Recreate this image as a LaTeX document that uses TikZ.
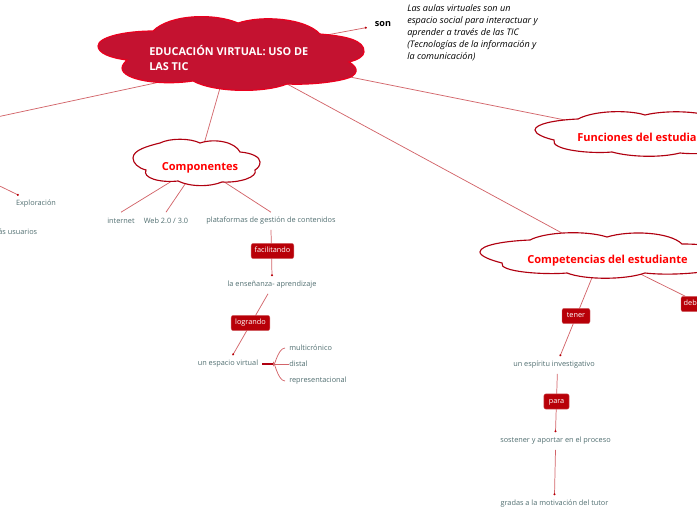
\documentclass[tikz,border=0pt]{standalone}
\usepackage{fontspec}
\setmainfont{Open Sans}
\usetikzlibrary{arrows.meta,backgrounds}
\definecolor{linkc}{RGB}{210,100,105}
\definecolor{boxc}{RGB}{184,0,8}
\definecolor{cloudline}{RGB}{176,0,16}
\definecolor{mainfill}{RGB}{196,18,48}
\definecolor{mainline}{RGB}{235,0,30}
\definecolor{leafc}{RGB}{80,110,112}
\tikzset{
  link/.style={draw=linkc,line width=0.55pt},
  dotlink/.style={link,-{Circle[length=1.5pt,width=1.5pt,fill=boxc,color=boxc]}},
  leaf/.style={text=leafc,font=\fontsize{5.5}{7}\selectfont,inner sep=0pt,minimum height=12.75pt,anchor=center},
  tagbox/.style={fill=boxc,draw=linkc,line width=0.3pt,rounded corners=1.6pt,text=white,font=\fontsize{5.5}{7}\selectfont,inner sep=0pt,minimum height=11.5pt,text height=4pt,text depth=1.2pt},
  outlinecloud/.style={fill=white,draw=cloudline,line width=0.85pt},
  mainshape/.style={fill=mainfill,draw=mainline,line width=0.85pt},
  cloudlabel/.style={text=red,font=\fontsize{8.28}{11}\selectfont\bfseries,inner sep=0pt},
  hub/.style={inner sep=0pt,minimum size=0pt,outer sep=0pt}
}
\begin{document}
\begin{tikzpicture}[x=0.75pt,y=-0.75pt]
\useasboundingbox (0,0) rectangle (697,520);
% clouds
\draw[mainshape] (153,31) .. controls (170,14) and (215,13) .. (238,23)
  .. controls (262,15) and (305,18) .. (320,34)
  .. controls (345,36) and (365,40) .. (364,52)
  .. controls (364,56) and (358,60) .. (349,62)
  .. controls (360,68) and (358,76) .. (345,79)
  .. controls (330,83) and (305,85) .. (287,84)
  .. controls (265,93) and (215,93) .. (193,81)
  .. controls (160,86) and (122,80) .. (122,68)
  .. controls (122,65) and (125,62) .. (127,60)
  .. controls (110,58) and (98,53) .. (98,46)
  .. controls (98,37) and (125,31) .. (153,31) -- cycle;
\draw[outlinecloud] (160,143) .. controls (170,138) and (190,138) .. (200,143)
  .. controls (215,138) and (235,142) .. (240,152)
  .. controls (252,153) and (260,157) .. (260,162)
  .. controls (260,166) and (258,168) .. (255,170)
  .. controls (258,177) and (240,183) .. (222,182)
  .. controls (210,187) and (190,187) .. (178,181)
  .. controls (160,183) and (142,178) .. (146,170)
  .. controls (138,168) and (133,163) .. (133,158)
  .. controls (133,150) and (148,146) .. (160,143) -- cycle;
\draw[outlinecloud] (578,119) .. controls (595,110) and (630,110) .. (645,115)
  .. controls (665,110) and (705,110) .. (722,121)
  .. controls (750,122) and (760,128) .. (760,135)
  .. controls (760,148) and (710,156) .. (680,153)
  .. controls (660,158) and (630,157) .. (612,152)
  .. controls (590,154) and (550,150) .. (554,140)
  .. controls (545,138) and (535,134) .. (535,130)
  .. controls (535,124) and (555,120) .. (578,119) -- cycle;
\draw[outlinecloud] (530,240) .. controls (545,232) and (585,230) .. (607,237)
  .. controls (630,230) and (670,232) .. (682,244)
  .. controls (715,244) and (740,250) .. (740,258)
  .. controls (740,270) and (680,277) .. (645,273)
  .. controls (625,280) and (585,280) .. (567,273)
  .. controls (545,275) and (498,272) .. (502,263)
  .. controls (490,260) and (480,256) .. (480,252)
  .. controls (480,245) and (505,241) .. (530,240) -- cycle;
% hubs
\node[hub] (main) at (230,53) {};
\node[hub] (compo) at (198,165) {};
\node[hub] (func) at (650,137) {};
\node[hub] (comp) at (608,258) {};
\coordinate (leftc) at (-100,137.8);
% cloud labels
\node[text=white,font=\fontsize{8.15}{11.25}\selectfont\bfseries,align=left,anchor=north west,inner sep=0pt] (mainlabel) at (149,45) {EDUCACIÓN VIRTUAL: USO DE\\LAS TIC};
\node[cloudlabel] (compolabel) at (200,167.5) {Componentes};
\node[cloudlabel,anchor=west] (funclabel) at (577,137) {Funciones del estudia};
\node[cloudlabel] (complabel) at (607.5,260.5) {Competencias del estudiante};
% black text
\node[font=\fontsize{6.8}{8}\selectfont\bfseries,text=black,inner sep=0pt,minimum width=24pt,minimum height=12pt] (son) at (383,24.5) {son};
\node[font=\fontsize{6.8}{9}\selectfont\itshape,text=black,align=left,anchor=north west,inner sep=0pt] (note) at (407,4.5) {Las aulas virtuales son un\\espacio social para interactuar y\\aprender a través de las TIC\\(Tecnologías de la información y\\la comunicación)};
% leaves
\node[leaf] (internet) at (121,221) {internet};
\node[leaf] (web) at (166,221) {Web 2.0 / 3.0};
\node[leaf] (plat) at (271,221) {plataformas de gestión de contenidos};
\node[leaf] (ens) at (272,285) {la enseñanza- aprendizaje};
\node[leaf] (esp) at (228,364) {un espacio virtual};
\node[leaf,anchor=west] (multi) at (289,348) {multicrónico};
\node[leaf,anchor=west] (distal) at (289,364) {distal};
\node[leaf,anchor=west] (repr) at (289,381) {representacional};
\node[leaf] (espir) at (554,365) {un espíritu investigativo};
\node[leaf] (sost) at (555.5,441) {sostener y aportar en el proceso};
\node[leaf] (grad) at (554.5,504) {gradas a la motivación del tutor};
\node[leaf] (expl) at (36,204) {Exploración};
\node[leaf,anchor=east] (usu) at (37.5,232) {ás usuarios};
% tags
\node[tagbox,minimum width=32pt] (fac) at (272.5,251) {facilitando};
\node[tagbox,minimum width=29pt] (log) at (250.5,323) {logrando};
\node[tagbox,minimum width=21pt] (ten) at (576,316) {tener};
\node[tagbox,minimum width=19pt] (par) at (556.5,401.5) {para};
\node[tagbox,minimum width=30pt,align=left,text width=26pt] (deb) at (701,304) {deb};
% connectors
\begin{scope}[on background layer]
\draw[link] ([yshift=-10.5pt]main.center) -- (leftc);
\draw[link] (main) -- (compo);
\draw[link] (main) -- (func);
\draw[link] (main) -- (comp);
\draw[dotlink] (main) -- (son);
\draw[dotlink] (leftc) -- ([xshift=2.2pt]expl.north west);
\draw[link] (compo) -- (internet.north);
\draw[link] (compo) -- (web.north);
\draw[link] (compo) -- (plat.north);
\draw[dotlink] (plat.south) -- (ens.north);
\draw[dotlink] ([xshift=-3pt]ens.south) -- ([xshift=3.5pt]esp.north);
\draw[dotlink] ([xshift=-6pt]comp.center) -- ([xshift=4.5pt]espir.north);
\draw[dotlink] ([xshift=2.5pt]espir.south) -- (sost.north);
\draw[dotlink] (sost.south) -- (grad.north);
\draw[link] (comp) -- (deb);
\draw[draw=cloudline,line width=0.9pt] (esp.east) ++(4,0) -- ++(11,0) coordinate (fork);
\draw[link] (fork) -- (distal.west);
\draw[link] (fork) to[out=-90,in=180] ([xshift=-3pt]multi.west);
\draw[link] (fork) to[out=90,in=180] ([xshift=-3pt]repr.west);
\end{scope}
\end{tikzpicture}
\end{document}
